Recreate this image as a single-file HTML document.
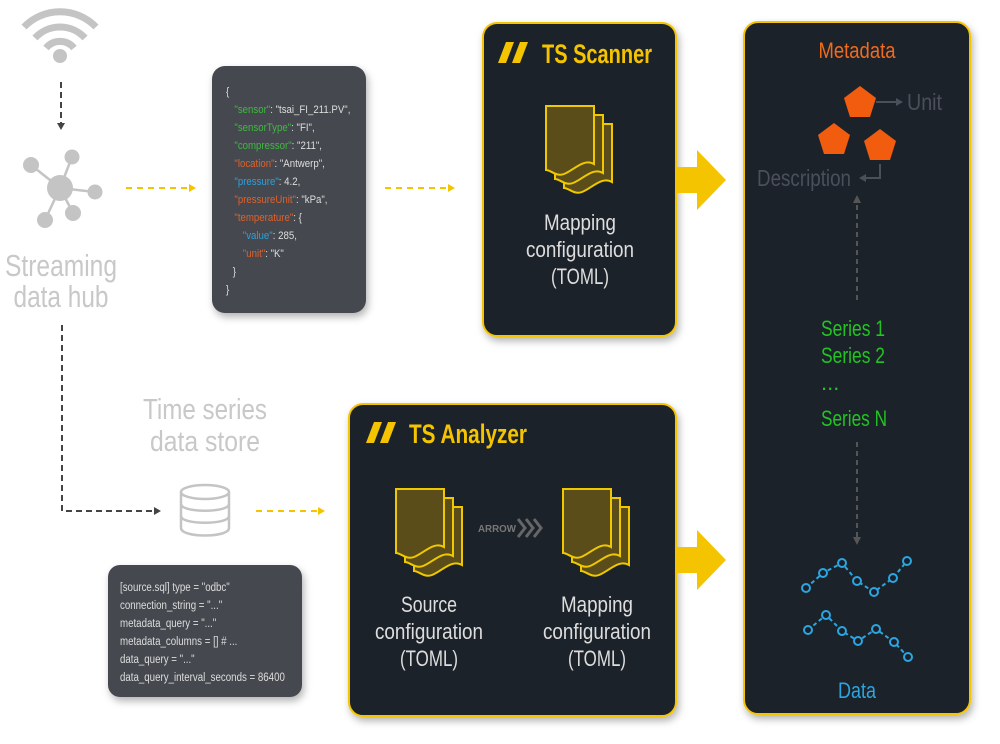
<!DOCTYPE html>
<html><head><meta charset="utf-8"><style>
html,body{margin:0;padding:0;background:#fff;}
svg{display:block}
text{font-family:"Liberation Sans Narrow","Liberation Sans",sans-serif;}
</style></head><body>
<svg width="1000" height="744" viewBox="0 0 1000 744" xmlns="http://www.w3.org/2000/svg">
<defs>
<filter id="sh" x="-10%" y="-10%" width="125%" height="125%"><feDropShadow dx="2" dy="4" stdDeviation="4" flood-color="#000" flood-opacity="0.3"/></filter>
<g id="page"><path d="M0,0 H48 V58 C38,52 28,64 18,68 C10,71 5,64 0,64 Z" fill="#5a4d1a" stroke="#f0c800" stroke-width="2"/></g>
<g id="docs"><use href="#page" x="18" y="18"/><use href="#page" x="9" y="9"/><use href="#page" x="0" y="0"/></g>
<g id="pent"><polygon points="0,-17 16,-5 10,14 -10,14 -16,-5" fill="#f25c0f"/></g>
</defs>

<!-- wifi -->
<g fill="none" stroke="#c4c4c4" stroke-width="7" stroke-linecap="butt">
<path d="M24,27 A50,50 0 0 1 96,27"/>
<path d="M35,38 A34,34 0 0 1 85,38"/>
<path d="M46,48 A18,18 0 0 1 74,48"/>
</g>
<circle cx="60" cy="56" r="7" fill="#c4c4c4"/>
<line x1="61" y1="82" x2="61" y2="124" stroke="#444" stroke-width="2" stroke-dasharray="6,4"/>
<polygon points="57,123 65,123 61,130" fill="#444"/>

<!-- hub -->
<g stroke="#c4c4c4" stroke-width="2.5">
<line x1="60" y1="188" x2="31" y2="165"/><line x1="60" y1="188" x2="72" y2="157"/><line x1="60" y1="188" x2="95" y2="192"/><line x1="60" y1="188" x2="73" y2="213"/><line x1="60" y1="188" x2="45" y2="220"/>
</g>
<g fill="#c4c4c4"><circle cx="60" cy="188" r="13"/><circle cx="31" cy="165" r="8"/><circle cx="72" cy="157" r="7.5"/><circle cx="95" cy="192" r="7.5"/><circle cx="73" cy="213" r="8"/><circle cx="45" cy="220" r="8"/></g>
<text x="61" y="276" font-size="31" fill="#c8c8c8" text-anchor="middle" textLength="112" lengthAdjust="spacingAndGlyphs">Streaming</text>
<text x="61" y="307" font-size="31" fill="#c8c8c8" text-anchor="middle" textLength="95" lengthAdjust="spacingAndGlyphs">data hub</text>

<line x1="126" y1="188" x2="190" y2="188" stroke="#f5c400" stroke-width="2" stroke-dasharray="6,5"/>
<polygon points="189,184 196,188 189,192" fill="#f5c400"/>

<!-- json box -->
<rect x="212" y="66" width="154" height="247" rx="13" fill="#444850" filter="url(#sh)"/>
<g font-size="11.5" fill="#ddd" transform="translate(226,0) scale(0.84,1) translate(-226,0)">
<text x="226" y="95">{</text>
<text x="236" y="113"><tspan fill="#3fb93f">"sensor"</tspan>: "tsai_FI_211.PV",</text>
<text x="236" y="131"><tspan fill="#3fb93f">"sensorType"</tspan>: "FI",</text>
<text x="236" y="149"><tspan fill="#3fb93f">"compressor"</tspan>: "211",</text>
<text x="236" y="167"><tspan fill="#e0602a">"location"</tspan>: "Antwerp",</text>
<text x="236" y="185"><tspan fill="#2fa0d8">"pressure"</tspan>: 4.2,</text>
<text x="236" y="203"><tspan fill="#e0602a">"pressureUnit"</tspan>: "kPa",</text>
<text x="236" y="221"><tspan fill="#e0602a">"temperature"</tspan>: {</text>
<text x="246" y="239"><tspan fill="#2fa0d8">"value"</tspan>: 285,</text>
<text x="246" y="257"><tspan fill="#e0602a">"unit"</tspan>: "K"</text>
<text x="234" y="275">}</text>
<text x="226" y="293">}</text>
</g>

<line x1="385" y1="188" x2="449" y2="188" stroke="#f5c400" stroke-width="2" stroke-dasharray="6,5"/>
<polygon points="448,184 455,188 448,192" fill="#f5c400"/>

<!-- TS Scanner -->
<rect x="483" y="23" width="193" height="313" rx="14" fill="#1c202c" stroke="#f5c400" stroke-width="2" filter="url(#sh)"/>
<polygon points="506,42 514,42 506,63 498,63" fill="#f5c400"/><polygon points="520,42 528,42 520,63 512,63" fill="#f5c400"/>
<text x="542" y="63" font-size="27" fill="#f5c400" font-weight="bold" textLength="110" lengthAdjust="spacingAndGlyphs">TS Scanner</text>
<use href="#docs" x="546" y="106"/>
<g font-size="22" fill="#ddd" text-anchor="middle">
<text x="580" y="230" textLength="72" lengthAdjust="spacingAndGlyphs">Mapping</text>
<text x="580" y="257" textLength="108" lengthAdjust="spacingAndGlyphs">configuration</text>
<text x="580" y="284" textLength="58" lengthAdjust="spacingAndGlyphs">(TOML)</text>
</g>
<polygon points="677,167 697,167 697,150 726,180 697,210 697,193 677,193" fill="#f5c400"/>

<!-- Metadata -->
<rect x="744" y="22" width="226" height="692" rx="14" fill="#1c202c" stroke="#f5c400" stroke-width="2" filter="url(#sh)"/>
<text x="857" y="58" font-size="22" fill="#f26a1b" text-anchor="middle" textLength="77" lengthAdjust="spacingAndGlyphs">Metadata</text>
<use href="#pent" x="860" y="103"/><use href="#pent" x="834" y="140"/><use href="#pent" x="880" y="146"/>
<g stroke="#4a4f5a" stroke-width="2" fill="none"><line x1="876" y1="102" x2="896" y2="102"/><path d="M880,164 V178 H865"/></g>
<polygon points="896,98 903,102 896,106" fill="#4a4f5a"/><polygon points="866,174 859,178 866,182" fill="#4a4f5a"/>
<text x="907" y="110" font-size="23" fill="#4a4f5a" textLength="35" lengthAdjust="spacingAndGlyphs">Unit</text>
<text x="757" y="186" font-size="23" fill="#4a4f5a" textLength="94" lengthAdjust="spacingAndGlyphs">Description</text>
<line x1="857" y1="300" x2="857" y2="202" stroke="#555" stroke-width="2" stroke-dasharray="5,4"/>
<polygon points="853,203 861,203 857,195" fill="#555"/>
<g font-size="22" fill="#22c322">
<text x="821" y="336" textLength="64" lengthAdjust="spacingAndGlyphs">Series 1</text>
<text x="821" y="363" textLength="64" lengthAdjust="spacingAndGlyphs">Series 2</text>
<text x="821" y="390">...</text>
<text x="821" y="426" textLength="66" lengthAdjust="spacingAndGlyphs">Series N</text>
</g>
<line x1="857" y1="442" x2="857" y2="538" stroke="#555" stroke-width="2" stroke-dasharray="5,4"/>
<polygon points="853,537 861,537 857,545" fill="#555"/>
<g stroke="#2aa6e0" stroke-width="2" fill="none">
<polyline points="806,588 823,573 842,563 857,581 874,592 893,578 907,561" stroke-dasharray="4,3"/>
<polyline points="808,630 826,615 842,631 858,641 876,629 894,642 908,657" stroke-dasharray="4,3"/>
<g fill="#1c202c">
<circle cx="806" cy="588" r="4"/><circle cx="823" cy="573" r="4"/><circle cx="842" cy="563" r="4"/><circle cx="857" cy="581" r="4"/><circle cx="874" cy="592" r="4"/><circle cx="893" cy="578" r="4"/><circle cx="907" cy="561" r="4"/>
<circle cx="808" cy="630" r="4"/><circle cx="826" cy="615" r="4"/><circle cx="842" cy="631" r="4"/><circle cx="858" cy="641" r="4"/><circle cx="876" cy="629" r="4"/><circle cx="894" cy="642" r="4"/><circle cx="908" cy="657" r="4"/>
</g></g>
<text x="857" y="698" font-size="22" fill="#2aa6e0" text-anchor="middle" textLength="38" lengthAdjust="spacingAndGlyphs">Data</text>

<!-- streaming down path -->
<path d="M62,325 V511 H154" fill="none" stroke="#444" stroke-width="2" stroke-dasharray="6,4"/>
<polygon points="154,507 161,511 154,515" fill="#444"/>
<text x="205" y="419" font-size="29" fill="#c8c8c8" text-anchor="middle" textLength="124" lengthAdjust="spacingAndGlyphs">Time series</text>
<text x="205" y="451" font-size="29" fill="#c8c8c8" text-anchor="middle" textLength="110" lengthAdjust="spacingAndGlyphs">data store</text>
<!-- db -->
<g fill="none" stroke="#c4c4c4" stroke-width="2.5">
<ellipse cx="205" cy="492" rx="24" ry="7"/>
<path d="M181,492 V528 C181,538 229,538 229,528 V492"/>
<path d="M181,504 C181,513 229,513 229,504"/>
<path d="M181,516 C181,525 229,525 229,516"/>
</g>
<line x1="256" y1="511" x2="319" y2="511" stroke="#f5c400" stroke-width="2" stroke-dasharray="6,5"/>
<polygon points="318,507 325,511 318,515" fill="#f5c400"/>

<!-- sql box -->
<rect x="108" y="565" width="194" height="132" rx="12" fill="#444850" filter="url(#sh)"/>
<g font-size="12" fill="#ddd" transform="translate(120,0) scale(0.81,1) translate(-120,0)">
<text x="120" y="591">[source.sql] type = "odbc"</text>
<text x="120" y="609">connection_string = "..."</text>
<text x="120" y="627">metadata_query = "..."</text>
<text x="120" y="645">metadata_columns = [] # ...</text>
<text x="120" y="663">data_query = "..."</text>
<text x="120" y="681">data_query_interval_seconds = 86400</text>
</g>

<!-- TS Analyzer -->
<rect x="349" y="404" width="327" height="312" rx="14" fill="#1c202c" stroke="#f5c400" stroke-width="2" filter="url(#sh)"/>
<polygon points="374,422 382,422 374,443 366,443" fill="#f5c400"/><polygon points="388,422 396,422 388,443 380,443" fill="#f5c400"/>
<text x="409" y="443" font-size="27" fill="#f5c400" font-weight="bold" textLength="118" lengthAdjust="spacingAndGlyphs">TS Analyzer</text>
<use href="#docs" x="396" y="489"/>
<use href="#docs" x="563" y="489"/>
<text x="478" y="532" font-size="10" fill="#777" font-weight="bold" textLength="38" lengthAdjust="spacingAndGlyphs">ARROW</text>
<g fill="none" stroke="#666" stroke-width="3"><path d="M518,519 L525,528 L518,537"/><path d="M526,519 L533,528 L526,537"/><path d="M534,519 L541,528 L534,537"/></g>
<g font-size="22" fill="#ddd" text-anchor="middle">
<text x="429" y="612" textLength="56" lengthAdjust="spacingAndGlyphs">Source</text>
<text x="429" y="639" textLength="108" lengthAdjust="spacingAndGlyphs">configuration</text>
<text x="429" y="666" textLength="58" lengthAdjust="spacingAndGlyphs">(TOML)</text>
<text x="597" y="612" textLength="72" lengthAdjust="spacingAndGlyphs">Mapping</text>
<text x="597" y="639" textLength="108" lengthAdjust="spacingAndGlyphs">configuration</text>
<text x="597" y="666" textLength="58" lengthAdjust="spacingAndGlyphs">(TOML)</text>
</g>
<polygon points="677,547 697,547 697,530 726,560 697,590 697,573 677,573" fill="#f5c400"/>
</svg>
</body></html>
